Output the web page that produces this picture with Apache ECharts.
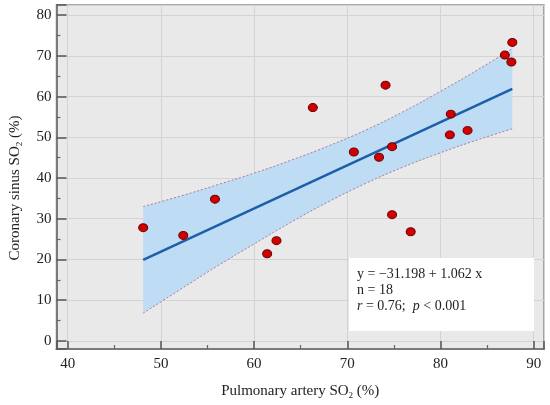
<!DOCTYPE html>
<html><head><meta charset="utf-8">
<script src="https://cdn.jsdelivr.net/npm/echarts@6/dist/echarts.min.js"></script>
<style>html,body{margin:0;padding:0;background:#fff}#c{width:550px;height:405px}</style>
</head><body><div id="c"></div>
<script>
// Observed points (Pulmonary artery SO2 %, Coronary sinus SO2 %)
const pulmonarySO2 = [48.1, 52.4, 55.8, 61.4, 62.4, 66.3, 70.7, 73.4, 74.1, 74.8, 74.8, 76.8, 81.0, 81.1, 82.9, 86.9, 87.6, 87.7];
const coronarySO2  = [27.8, 25.9, 34.8, 21.4, 24.6, 57.3, 46.4, 45.1, 62.8, 47.7, 31.0, 26.8, 50.6, 55.7, 51.7, 70.2, 68.5, 73.3];
// Regression line end points
const fitX = [48.1, 87.7];
const fitY = [19.9, 61.9];
// Confidence band
const bandX     = [48.1, 52, 56, 60, 64, 68, 72, 76, 80, 84, 87.7];
const bandUpper = [33.0, 35.5, 38.3, 41.2, 44.4, 47.9, 51.8, 56.3, 61.3, 66.6, 71.8];
const bandLower = [6.8, 12.5, 18.3, 23.8, 29.2, 34.2, 38.7, 42.7, 46.2, 49.4, 52.1];
// Axis ranges
const xRange = [38.8, 91.1];
const yRange = [-2, 82.5];
const annotLines = ['y = \u221231.198 + 1.062 x', 'n = 18', 'r = 0.76;  p < 0.001'];

const FONT = "'Liberation Serif','Times New Roman',serif";
const chart = echarts.init(document.getElementById('c'), null, {renderer: 'canvas'});
const pts = pulmonarySO2.map((x, i) => [x, coronarySO2[i]]);
const fit = fitX.map((x, i) => [x, fitY[i]]);
const up = bandX.map((x, i) => [x, bandUpper[i]]);
const lo = bandX.map((x, i) => [x, bandLower[i]]);

const axisCommon = {
  type: 'value',
  axisLine: {show: true, onZero: false, lineStyle: {color: '#7a7a7a', width: 2}},
  axisTick: {show: true, inside: true, lineStyle: {color: '#555', width: 1.5}},
  minorTick: {show: true, splitNumber: 2, length: 4, lineStyle: {color: '#666', width: 1.2}},
  splitLine: {show: true, lineStyle: {color: '#d3d3d3', width: 1}},
  axisLabel: {showMinLabel: false, showMaxLabel: false, color: '#222', fontSize: 15, fontFamily: FONT},
  nameLocation: 'middle',
  nameTextStyle: {color: '#222', fontSize: 15, fontFamily: FONT,
    rich: {sub: {fontSize: 9, fontFamily: FONT, color: '#222', padding: [9, 0, 0, 0]}}}
};

chart.setOption({
  animation: false,
  grid: {left: 51, right: 6, top: 5, bottom: 55, show: true, backgroundColor: '#e9e9e9', borderColor: '#8a8a8a', borderWidth: 1.5},
  xAxis: Object.assign({}, axisCommon, {
    min: xRange[0], max: xRange[1], splitNumber: 5,
    axisTick: Object.assign({}, axisCommon.axisTick, {length: 8}),
    axisLabel: Object.assign({}, axisCommon.axisLabel, {margin: 8}),
    name: 'Pulmonary artery SO{sub|2} (%)', nameGap: 33
  }),
  yAxis: Object.assign({}, axisCommon, {
    min: yRange[0], max: yRange[1], splitNumber: 8,
    axisTick: Object.assign({}, axisCommon.axisTick, {length: 10}),
    axisLabel: Object.assign({}, axisCommon.axisLabel, {margin: 5}),
    name: 'Coronary sinus SO{sub|2} (%)', nameGap: 32, nameRotate: 90,
    nameTextStyle: Object.assign({}, axisCommon.nameTextStyle, {padding: [0, 0, 0, -22]})
  }),
  series: [
    {
      type: 'custom', silent: true, z: 1,
      data: [[bandX[0], bandLower[0]]],
      renderItem: function (params, api) {
        const poly = bandX.map((x, i) => api.coord([x, bandUpper[i]]))
          .concat(bandX.slice().reverse().map((x, j) => api.coord([x, bandLower[bandX.length - 1 - j]])));
        return {type: 'polygon', shape: {points: poly}, style: {fill: '#bfdcf5'}};
      }
    },
    {type: 'line', data: up, symbol: 'none', smooth: true, silent: true, z: 2, lineStyle: {color: '#b0779a', width: 1, type: [2, 2]}},
    {type: 'line', data: lo, symbol: 'none', smooth: true, silent: true, z: 2, lineStyle: {color: '#b0779a', width: 1, type: [2, 2]}},
    {type: 'line', data: fit, symbol: 'none', silent: true, z: 3, lineStyle: {color: '#1d5ea8', width: 2.5}},
    {type: 'scatter', data: pts, z: 4, symbol: 'circle', symbolSize: [9, 8],
      itemStyle: {color: '#d10000', borderColor: '#6a0000', borderWidth: 1, opacity: 1}}
  ],
  graphic: {
    z: 100, zlevel: 0,
    elements: [
      {type: 'rect', left: 349, top: 258, z: 100, shape: {width: 185, height: 73}, style: {fill: '#ffffff'}},
      {type: 'text', left: 357, top: 267, z: 101, style: {
        text: '{n|' + annotLines[0] + '}\n{n|' + annotLines[1] + '}\n{i|r}{n| = 0.76;  }{i|p}{n| < 0.001}',
        rich: {
          n: {fontSize: 14, fontFamily: FONT, fill: '#222', lineHeight: 16},
          i: {fontSize: 14, fontFamily: FONT, fontStyle: 'italic', fill: '#222', lineHeight: 16}
        }
      }}
    ]
  }
});
</script></body></html>
